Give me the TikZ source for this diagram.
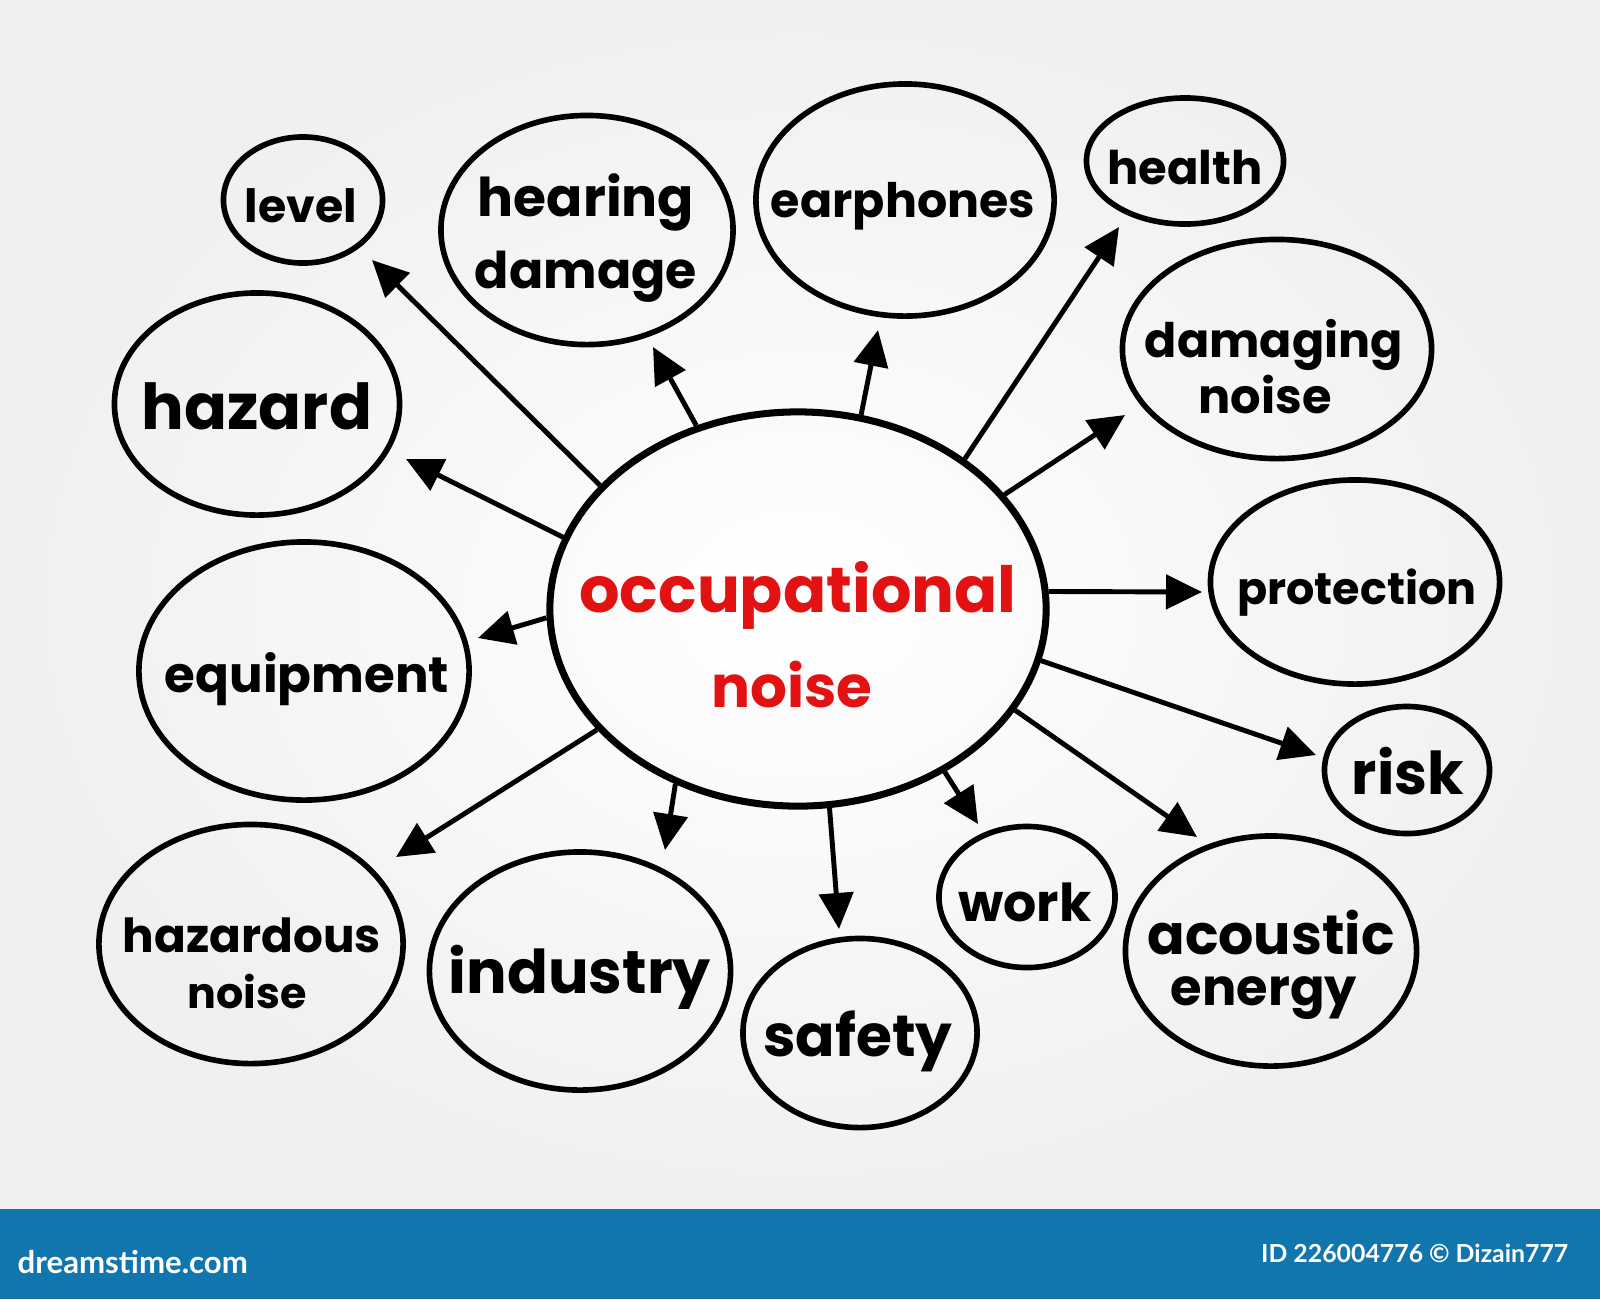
\documentclass[tikz,border=0pt]{standalone}
\usepackage{fontspec}
\setmainfont{Poppins}
\newfontfamily\lato{Lato}
\usetikzlibrary{shapes.geometric,arrows.meta}
\definecolor{bannerblue}{RGB}{18,118,174}
\definecolor{hred}{RGB}{226,18,18}
\newcommand\wtxt[2]{\resizebox{#1}{!}{#2}}
\begin{document}
\begin{tikzpicture}[x=0.01cm,y=-0.01cm,
  bub/.style={draw=black, line width=1.6pt, ellipse, inner sep=0pt},
  lab/.style={inner sep=0pt, font=\bfseries, anchor=base},
  arr/.style={line width=1.4pt, -{Triangle[length=3.6mm,width=3.4mm]}}]
\useasboundingbox (0,0) rectangle (1600,1299);
% background
\shade[inner color=white, outer color=black!6] (0,0) rectangle (1600,1209);
\fill[bannerblue] (0,1209) rectangle (1600,1299);
\node[anchor=west, text=white, inner sep=0pt, font=\lato\bfseries] (dt) at (17,1262) {\wtxt{2.3cm}{dreamstime.com}};
\node[anchor=east, text=white, inner sep=0pt, font=\lato\bfseries] (idt) at (1569,1253) {\wtxt{3.07cm}{ID 226004776 © Dizain777}};

% central
\node[bub, line width=2pt, minimum width=4.96cm, minimum height=3.94cm] (c) at (798,609) {};
\node[lab, text=hred] (ct1) at (798,612) {\wtxt{4.37cm}{occupational}};
\node[lab, text=hred] (ct2) at (792,707) {\wtxt{1.61cm}{noise}};

% bubbles
\node[bub, minimum width=1.59cm, minimum height=1.26cm] (level) at (303,200) {};
\node[lab] (levelt) at (301,222) {\wtxt{1.12cm}{level}};

\node[bub, minimum width=2.92cm, minimum height=2.29cm] (hd) at (587,230) {};
\node[lab] (hdt1) at (586,216) {\wtxt{2.16cm}{hearing}};
\node[lab] (hdt2) at (586,288) {\wtxt{2.22cm}{damage}};

\node[bub, minimum width=2.98cm, minimum height=2.32cm] (ear) at (905,200) {};
\node[lab] (eart) at (903,217) {\wtxt{2.64cm}{earphones}};

\node[bub, minimum width=1.97cm, minimum height=1.26cm] (health) at (1185,161) {};
\node[lab] (healtht) at (1185,184) {\wtxt{1.55cm}{health}};

\node[bub, minimum width=3.09cm, minimum height=2.19cm] (dn) at (1277,349) {};
\node[lab] (dnt1) at (1274,357) {\wtxt{2.58cm}{damaging}};
\node[lab] (dnt2) at (1265,413) {\wtxt{1.33cm}{noise}};

\node[bub, minimum width=2.85cm, minimum height=2.22cm] (hazard) at (257,404) {};
\node[lab] (hazardt) at (257,429) {\wtxt{2.3cm}{hazard}};

\node[bub, minimum width=2.89cm, minimum height=2.04cm] (prot) at (1355,582) {};
\node[lab] (prott) at (1357,604) {\wtxt{2.39cm}{protection}};

\node[bub, minimum width=3.30cm, minimum height=2.58cm] (equip) at (304,671) {};
\node[lab] (equipt) at (307,692) {\wtxt{2.84cm}{equipment}};

\node[bub, minimum width=1.65cm, minimum height=1.27cm] (risk) at (1407,770) {};
\node[lab] (riskt) at (1408,794) {\wtxt{1.12cm}{risk}};

\node[bub, minimum width=3.04cm, minimum height=2.39cm] (hn) at (251,944) {};
\node[lab] (hnt1) at (252,952) {\wtxt{2.58cm}{hazardous}};
\node[lab] (hnt2) at (247,1008) {\wtxt{1.19cm}{noise}};

\node[bub, minimum width=3.01cm, minimum height=2.38cm] (ind) at (580,971) {};
\node[lab] (indt) at (580,993) {\wtxt{2.62cm}{industry}};

\node[bub, minimum width=2.34cm, minimum height=1.89cm] (safety) at (860,1033) {};
\node[lab] (safetyt) at (858,1056) {\wtxt{1.89cm}{safety}};

\node[bub, minimum width=1.76cm, minimum height=1.41cm] (work) at (1027,897) {};
\node[lab] (workt) at (1025,921) {\wtxt{1.33cm}{work}};

\node[bub, minimum width=2.91cm, minimum height=2.30cm] (ae) at (1271,951) {};
\node[lab] (aet1) at (1271,954) {\wtxt{2.47cm}{acoustic}};
\node[lab] (aet2) at (1264,1005) {\wtxt{1.86cm}{energy}};

% arrow tips
\coordinate (tlevel) at (372,260);
\coordinate (thazard) at (406,459);
\coordinate (tequip) at (478,638);
\coordinate (thn) at (396,857);
\coordinate (tind) at (665,850);
\coordinate (tsafety) at (839,929);
\coordinate (twork) at (978,824);
\coordinate (tae) at (1197,837);
\coordinate (trisk) at (1316,755);
\coordinate (tprot) at (1202,592);
\coordinate (tdn) at (1125,415);
\coordinate (thealth) at (1119,227);
\coordinate (tear) at (878,330);
\coordinate (thd) at (653,347);

\draw[arr] (c.148.5) -- (tlevel);
\draw[arr] (c.163) -- (thazard);
\draw[arr] (c.182) -- (tequip);
\draw[arr] (c.211) -- (thn);
\draw[arr] (c.235.5) -- (tind);
\draw[arr] (c.279) -- (tsafety);
\draw[arr] (c.312.7) -- (twork);
\draw[arr] (c.335) -- (tae);
\draw[arr] (c.348) -- (trisk);
\draw[arr] (c.4) -- (tprot);
\draw[arr] (c.29.7) -- (tdn);
\draw[arr] (c.42.4) -- (thealth);
\draw[arr] (c.72.5) -- (tear);
\draw[arr] (c.119.7) -- (thd);
\end{tikzpicture}
\end{document}
